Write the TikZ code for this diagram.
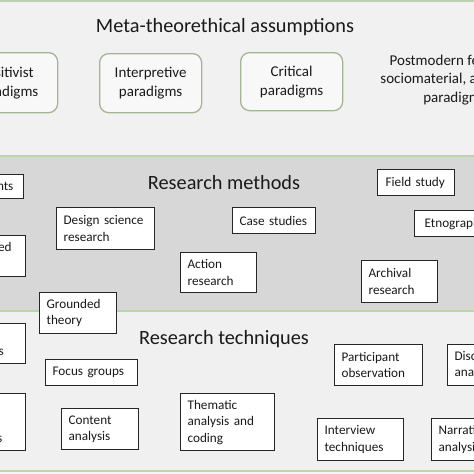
\documentclass[tikz,border=0pt]{standalone}
\usepackage{fontspec}
\setmainfont{Carlito}
\definecolor{topbg}{HTML}{F1F1F1}
\definecolor{midbg}{HTML}{D7D7D7}
\definecolor{botbg}{HTML}{F0F0F0}
\definecolor{gline}{HTML}{B9D6A6}
\definecolor{pbord}{HTML}{A3B594}
\definecolor{pfill}{HTML}{F8F8F8}
\definecolor{txt}{HTML}{1A1A1A}
\tikzset{
  greenline/.style={draw=gline, line width=2.4pt},
  rbox/.style={draw=black!85, line width=1.2pt, fill=white, inner xsep=7pt, inner ysep=0pt,
    align=left, anchor=north west, text=txt, font=\fontsize{13.2}{16.5}\selectfont},
  pbox/.style={draw=pbord, line width=1.3pt, fill=pfill, rounded corners=9pt, inner sep=0pt,
    align=center, anchor=north west, text=txt, font=\fontsize{15}{19}\selectfont},
  titletext/.style={text=txt, font=\fontsize{20.3}{24}\selectfont, inner sep=0pt},
  freetext/.style={text=txt, align=center, font=\fontsize{15}{18.5}\selectfont, inner sep=0pt},
}
\begin{document}
\begin{tikzpicture}[x=1pt,y=-1pt]
\useasboundingbox (0,0) rectangle (474,474);
\clip (0,0) rectangle (474,474);
% bands
\fill[topbg] (0,0) rectangle (474,156);
\fill[midbg] (0,156) rectangle (474,311);
\fill[botbg] (0,311) rectangle (474,471);
\fill[white!96!black] (0,471) rectangle (474,474);
\draw[greenline] (0,1) -- (474,1);
\draw[greenline] (0,156) -- (474,156);
\draw[greenline, line width=1.6pt] (0,311) -- (474,311);
\draw[greenline] (0,471) -- (474,471);
% top band
\node[titletext] (metatitle) at (225,27) {Meta-theorethical assumptions};
\node[pbox, minimum width=102pt, minimum height=60pt] (posit) at (-45,52) {Positivist\\paradigms};
\node[pbox, minimum width=102pt, minimum height=59pt] (interp) at (99,53) {Interpretive\\paradigms};
\node[pbox, minimum width=102pt, minimum height=58pt] (crit) at (240,52) {Critical\\paradigms};
\node[freetext] (postmod) at (455,80) {Postmodern feminist,\\sociomaterial, and other\\paradigms};
% middle band
\node[titletext] (methtitle) at (224,183) {Research methods};
\node[rbox, text width=70pt, minimum height=24pt] (exper) at (-61,174) {Experiments};
\node[rbox, text width=100pt, minimum height=41pt] (simul) at (-89,235) {Simulation-based\\study};
\node[rbox, text width=84pt, minimum height=42pt] (design) at (56,207) {Design science\\research};
\node[rbox, text width=69pt, minimum height=26pt] (case) at (232,207) {Case studies};
\node[rbox, text width=62pt, minimum height=40pt] (action) at (180,252) {Action\\research};
\node[rbox, text width=61pt, minimum height=26pt, inner xsep=8pt] (field) at (377,169) {Field study};
\node[rbox, text width=86pt, minimum height=26pt, inner xsep=10pt] (etno) at (414,210) {Etnography};
\node[rbox, text width=62pt, minimum height=42pt] (archiv) at (361,260) {Archival\\research};
% bottom band
\node[titletext] (techtitle) at (224,339) {Research techniques};
\node[rbox, text width=94pt, minimum height=40pt] (survey) at (-83,323) {Surveys\\questionnaires};
\node[rbox, text width=58pt, minimum height=57pt] (video) at (-47,393) {Video\\data\\analysis};
\node[rbox, text width=78pt, minimum height=26pt, inner xsep=7pt] (focus) at (45,359) {Focus groups};
\node[rbox, text width=63pt, minimum height=41pt] (content) at (61,408) {Content\\analysis};
\node[rbox, text width=80pt, minimum height=57pt] (thematic) at (180,393) {Thematic\\analysis and\\coding};
\node[rbox, text width=74pt, minimum height=41pt] (partic) at (334,344) {Participant\\observation};
\node[rbox, text width=79pt, minimum height=41pt] (disc) at (447,344) {Discourse\\analysis};
\node[rbox, text width=72pt, minimum height=42pt] (interv) at (317,418) {Interview\\techniques};
\node[rbox, text width=85pt, minimum height=42pt] (narr) at (431,418) {Narrative\\analysis};
% grounded theory straddles the boundary
\node[rbox, text width=63pt, minimum height=41pt] (ground) at (39,292) {Grounded\\theory};
\end{tikzpicture}
\end{document}
